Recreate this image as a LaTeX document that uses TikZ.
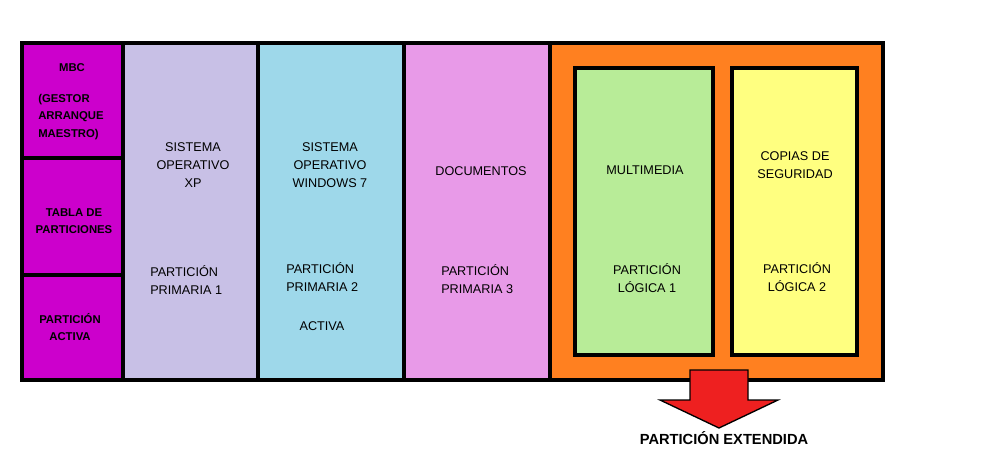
\documentclass[tikz,border=0pt]{standalone}
\usepackage{fontspec}
\setmainfont{Liberation Sans}
\begin{document}
\begin{tikzpicture}[x=0.75pt,y=-0.75pt,
  cell/.style={draw=black,line width=3pt},
  txt/.style={font=\fontsize{9.5}{13.5}\selectfont,align=center,inner sep=0},
  btxt/.style={font=\fontsize{8.5}{13}\selectfont\bfseries,align=center,inner sep=0}]
\useasboundingbox (0,0) rectangle (985,460);
\definecolor{mag}{HTML}{CC00CC}
\definecolor{lav}{HTML}{C8C0E6}
\definecolor{lblue}{HTML}{9ED8EA}
\definecolor{pinkc}{HTML}{E89AE8}
\definecolor{orng}{HTML}{FF8020}
\definecolor{grn}{HTML}{B8EC98}
\definecolor{yel}{HTML}{FFFF80}
\definecolor{redc}{HTML}{EE2020}
\fill[mag] (22,43) rectangle (123,380);
\draw[cell] (22,43) rectangle (123,158);
\draw[cell] (22,158) rectangle (123,275);
\draw[cell] (22,275) rectangle (123,380);
\draw[cell,fill=lav] (123,43) rectangle (258,380);
\draw[cell,fill=lblue] (258,43) rectangle (404,380);
\draw[cell,fill=pinkc] (404,43) rectangle (550,380);
\draw[cell,fill=orng] (550,43) rectangle (883,380);
\draw[cell,fill=grn] (575,68) rectangle (713,355);
\draw[cell,fill=yel] (732,68) rectangle (857,355);
\fill[redc,draw=black,line width=1pt] (690,370) -- (748,370) -- (748,400) -- (778,400) -- (719,428) -- (660,400) -- (690,400) -- cycle;
\node[btxt] (mbc) at (72,68) {MBC};
\node[btxt,align=left,anchor=west] (gest) at (38,117) {(GESTOR\\ ARRANQUE\\ MAESTRO)};
\node[btxt] (tabla) at (74,221) {TABLA DE\\PARTICIONES};
\node[btxt] (pact) at (70,327) {PARTICIÓN\\ACTIVA};
\node[txt] (so1) at (193,165) {SISTEMA\\OPERATIVO\\XP};
\node[txt,align=left,anchor=west] (pp1) at (150,280) {PARTICIÓN\\PRIMARIA 1};
\node[txt] (so2) at (330,165) {SISTEMA\\OPERATIVO\\WINDOWS 7};
\node[txt,align=left,anchor=west] (pp2) at (286,277) {PARTICIÓN\\PRIMARIA 2};
\node[txt] (act) at (322,326) {ACTIVA};
\node[txt] (doc) at (481,171) {DOCUMENTOS};
\node[txt,align=left,anchor=west] (pp3) at (441,279) {PARTICIÓN\\PRIMARIA 3};
\node[txt] (mm) at (645,170) {MULTIMEDIA};
\node[txt] (pl1) at (647,278) {PARTICIÓN\\LÓGICA 1};
\node[txt] (cop) at (795,165) {COPIAS DE\\SEGURIDAD};
\node[txt] (pl2) at (797,277) {PARTICIÓN\\LÓGICA 2};
\node[txt,font=\fontsize{11}{13}\selectfont\bfseries] (ext) at (724,438) {PARTICIÓN EXTENDIDA};
\end{tikzpicture}
\end{document}
